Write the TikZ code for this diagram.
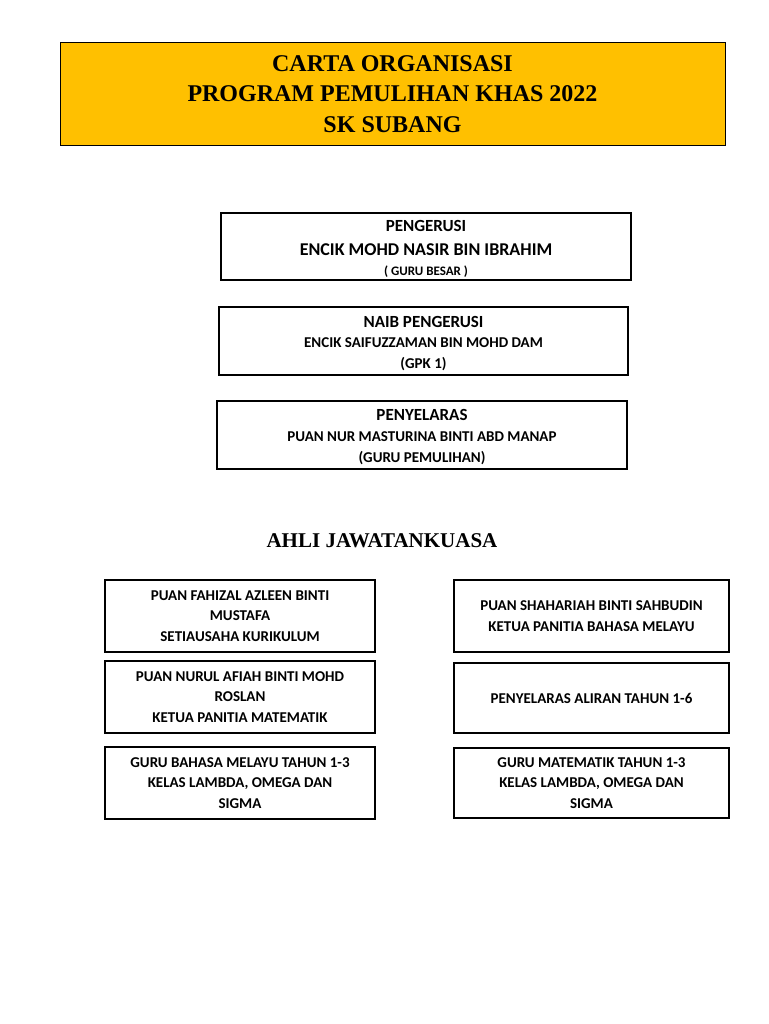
\documentclass[tikz,border=0pt]{standalone}
\usepackage{fontspec}
\setmainfont{Liberation Serif}
\newfontfamily\bodyfont{Carlito}
\begin{document}
\begin{tikzpicture}[x=1pt,y=-1pt,
  box/.style={draw,line width=1.8pt,inner sep=0pt},
  tx/.style={inner sep=0pt,font=\bodyfont\bfseries\fontsize{15}{18}\selectfont},
  big/.style={inner sep=0pt,font=\bodyfont\bfseries\fontsize{17}{20}\selectfont},
  small/.style={align=center,inner sep=0pt,font=\bodyfont\bfseries\fontsize{15}{20.5}\selectfont}]
\useasboundingbox (0,0) rectangle (768,1024);
\definecolor{gold}{HTML}{FFC000}
\node[draw,fill=gold,line width=0.6pt,minimum width=665pt,minimum height=103pt,align=center,
  font=\bfseries\fontsize{24}{30.5}\selectfont] (title) at (392.5,94)
  {CARTA ORGANISASI\\PROGRAM PEMULIHAN KHAS 2022\\SK SUBANG};
\node[box,minimum width=410pt,minimum height=67pt] (p1) at (426,246.5) {};
\node[big] (p1a) at (426,226) {PENGERUSI};
\node[big,font=\bodyfont\bfseries\fontsize{18}{20}\selectfont] (p1b) at (426,250) {ENCIK MOHD NASIR BIN IBRAHIM};
\node[tx,font=\bodyfont\bfseries\fontsize{13}{16}\selectfont] (p1c) at (426,272) {( GURU BESAR )};
\node[box,minimum width=409pt,minimum height=68pt] (p2) at (423.5,341) {};
\node[big] (p2a) at (423.5,322) {NAIB PENGERUSI};
\node[tx] (p2b) at (423.5,343) {ENCIK SAIFUZZAMAN BIN MOHD DAM};
\node[tx] (p2c) at (423.5,364) {(GPK 1)};
\node[box,minimum width=410pt,minimum height=68pt] (p3) at (422,435) {};
\node[big] (p3a) at (422,415) {PENYELARAS};
\node[tx] (p3b) at (422,437) {PUAN NUR MASTURINA BINTI ABD MANAP};
\node[tx] (p3c) at (422,458) {(GURU PEMULIHAN)};
\node[font=\bfseries\fontsize{21}{22}\selectfont] (ahli) at (382,541) {AHLI JAWATANKUASA};
\node[box,minimum width=270pt,minimum height=72pt] (l1) at (240,616) {};
\node[small] at (l1) {PUAN FAHIZAL AZLEEN BINTI\\MUSTAFA\\SETIAUSAHA KURIKULUM};
\node[box,minimum width=270pt,minimum height=72pt] (l2) at (240,697) {};
\node[small] at (l2) {PUAN NURUL AFIAH BINTI MOHD\\ROSLAN\\KETUA PANITIA MATEMATIK};
\node[box,minimum width=270pt,minimum height=72pt] (l3) at (240,783) {};
\node[small] at (l3) {GURU BAHASA MELAYU TAHUN 1-3\\KELAS LAMBDA, OMEGA DAN\\SIGMA};
\node[box,minimum width=275pt,minimum height=72pt] (r1) at (591.5,616) {};
\node[small] at (r1) {PUAN SHAHARIAH BINTI SAHBUDIN\\KETUA PANITIA BAHASA MELAYU};
\node[box,minimum width=275pt,minimum height=70pt] (r2) at (591.5,698) {};
\node[small] at (r2) {PENYELARAS ALIRAN TAHUN 1-6};
\node[box,minimum width=275pt,minimum height=70pt] (r3) at (591.5,783) {};
\node[small] at (r3) {GURU MATEMATIK TAHUN 1-3\\KELAS LAMBDA, OMEGA DAN\\SIGMA};
\end{tikzpicture}
\end{document}
